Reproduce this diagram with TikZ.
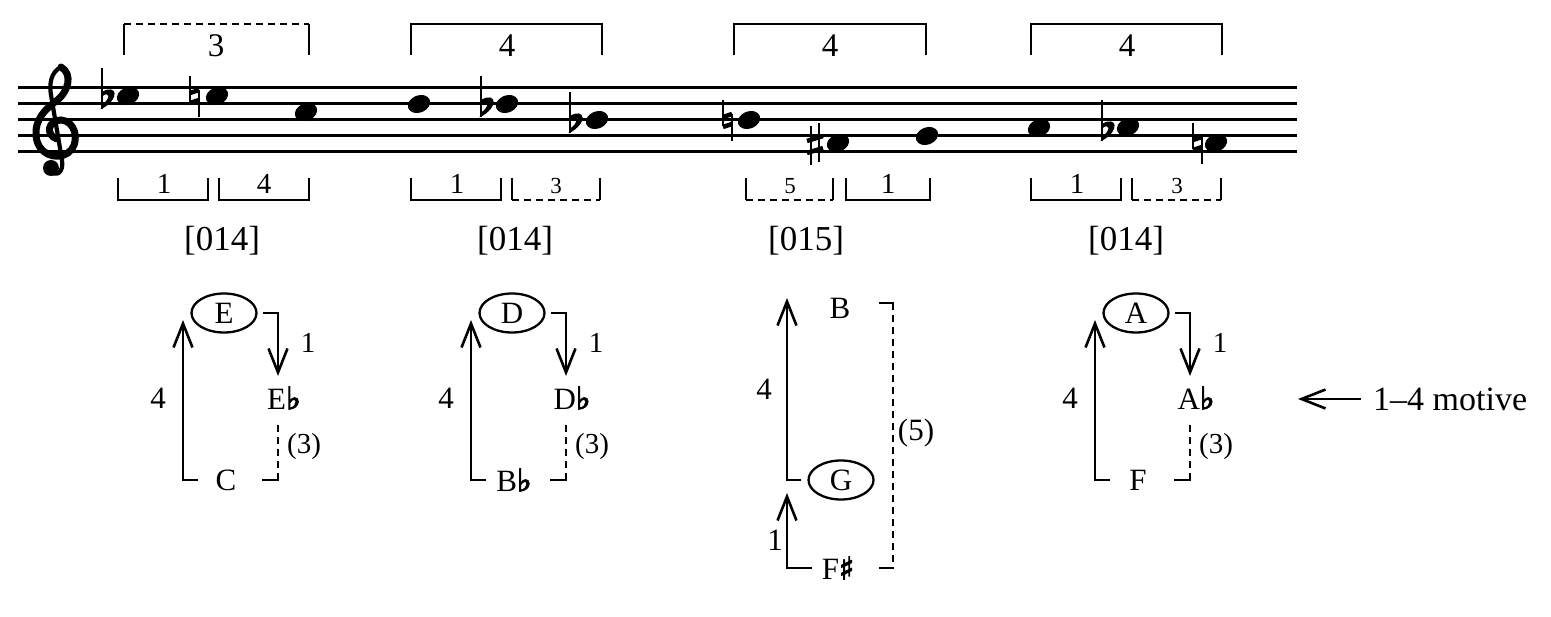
\documentclass[tikz,border=0pt]{standalone}
\usepackage{fontspec}
\setmainfont{Liberation Serif}
\newfontfamily\djfont[FakeBold=3.5]{DejaVu Sans}
\usetikzlibrary{arrows.meta,shapes.geometric}
\newcommand\flt{{\djfont\bfseries ♭}}
\newcommand\shp{{\djfont\bfseries ♯}}
\newcommand\nhead[2]{\fill[rotate around={22:(#1,#2)}] (#1,#2) ellipse [x radius=11.5pt, y radius=8.6pt];}
\newcommand\flatsign[2]{%
  \draw[line width=2.8pt] (#1,#2-28) -- (#1,#2+13);
  \fill (#1-1.4,#2+13.5) .. controls (#1+19,#2+3) and (#1+15,#2-13) .. (#1,#2-4) -- (#1,#2+0.5) .. controls (#1+8,#2-6) and (#1+9,#2+3) .. (#1,#2+8.5) -- cycle;}
\newcommand\natsign[2]{%
  \draw[line width=2.6pt] (#1,#2-20) -- (#1,#2+6);
  \draw[line width=2.6pt] (#1+9,#2-6) -- (#1+9,#2+21);
  \draw[line width=4.5pt] (#1,#2-3) -- (#1+9,#2-6);
  \draw[line width=4.5pt] (#1,#2+7) -- (#1+9,#2+4);}
\newcommand\shpsign[2]{%
  \draw[line width=2.6pt] (#1,#2-17) -- (#1,#2+22);
  \draw[line width=2.6pt] (#1+8,#2-20) -- (#1+8,#2+19);
  \draw[line width=4.5pt] (#1-4,#2-2) -- (#1+12,#2-7);
  \draw[line width=4.5pt] (#1-4,#2+10) -- (#1+12,#2+5);}
\tikzset{
  staffline/.style={line width=3pt},
  brk/.style={line width=2.4pt},
  brkd/.style={line width=2.4pt, dash pattern=on 7pt off 5pt},
  arr/.style={line width=2.6pt, -{Straight Barb[length=24pt,width=19pt,line width=2.6pt]}},
  dsh/.style={line width=2.4pt, dash pattern=on 7pt off 5pt},
  sol/.style={line width=2.4pt},
  big/.style={inner sep=0pt, font=\fontsize{33}{38}\selectfont},
  mid/.style={inner sep=0pt, font=\fontsize{29}{34}\selectfont},
  sml/.style={inner sep=0pt, font=\fontsize{23}{28}\selectfont},
  lab/.style={inner sep=0pt, font=\fontsize{31}{36}\selectfont},
  labs/.style={inner sep=0pt, font=\fontsize{29}{34}\selectfont},
  ell/.style={draw, line width=2.3pt, ellipse, inner sep=0pt, minimum width=65pt, minimum height=39pt, font=\fontsize{31}{36}\selectfont},
}
\begin{document}
\begin{tikzpicture}[x=1pt,y=-1pt]
\useasboundingbox (0,0) rectangle (1551,617);
% staff
\foreach \yy in {88,104,120,136,152} \draw[staffline] (18,\yy) -- (1297,\yy);
% treble clef
\draw[line width=7pt, line cap=round]
  (61,67) .. controls (73,74) and (69,92) .. (55,102)
  .. controls (40,113) and (33,126) .. (37,141)
  .. controls (42,158) and (63,161) .. (72,149)
  .. controls (79,139) and (75,121) .. (61,120)
  .. controls (48,120) and (45,135) .. (57,139);
\draw[line width=4.2pt, line cap=round]
  (61,67) .. controls (51,72) and (49,84) .. (51,95) -- (62,160)
  .. controls (64,173) and (56,177) .. (50,171);
\fill (51,168) circle [radius=8pt];
% notes
\flatsign{102}{96}\nhead{128}{96}
\natsign{190}{96}\nhead{217}{96}
\nhead{306}{112}
\nhead{419}{104}
\flatsign{481}{104}\nhead{507}{104}
\flatsign{570}{120}\nhead{597}{120}
\natsign{723}{120}\nhead{749}{120}
\shpsign{811}{143}\nhead{838}{143}
\nhead{927}{136}
\nhead{1039}{128}
\flatsign{1102}{128}\nhead{1128}{127}
\natsign{1193}{143}\nhead{1216}{143}
% top brackets
\draw[brk] (124,55) -- (124,24); \draw[brk] (309,55) -- (309,24);
\draw[brkd] (124,24) -- (309,24);
\draw[brk] (411,55) -- (411,24) -- (602,24) -- (602,55);
\draw[brk] (734,55) -- (734,24) -- (926,24) -- (926,55);
\draw[brk] (1031,55) -- (1031,24) -- (1222,24) -- (1222,55);
\node[big] (t1) at (216,46) {3};
\node[big] (t2) at (507,46) {4};
\node[big] (t3) at (830,46) {4};
\node[big] (t4) at (1127,46) {4};
% bottom brackets
\draw[brk] (118,178) -- (118,200) -- (208,200) -- (208,178);
\draw[brk] (219,178) -- (219,200) -- (309,200) -- (309,178);
\draw[brk] (411,178) -- (411,200) -- (501,200) -- (501,178);
\draw[brk] (512,178) -- (512,200); \draw[brk] (600,178) -- (600,200); \draw[brkd] (512,200) -- (600,200);
\draw[brk] (746,178) -- (746,200); \draw[brk] (833,178) -- (833,200); \draw[brkd] (746,200) -- (833,200);
\draw[brk] (846,178) -- (846,200) -- (930,200) -- (930,178);
\draw[brk] (1031,178) -- (1031,200) -- (1121,200) -- (1121,178);
\draw[brk] (1132,178) -- (1132,200); \draw[brk] (1221,178) -- (1221,200); \draw[brkd] (1132,200) -- (1221,200);
\node[mid] (b1) at (164,184) {1};
\node[mid] (b2) at (264,184) {4};
\node[mid] (b3) at (457,184) {1};
\node[sml] (b4) at (556,186) {3};
\node[sml] (b5) at (790,186) {5};
\node[mid] (b6) at (888,184) {1};
\node[mid] (b7) at (1077,184) {1};
\node[sml] (b8) at (1177,186) {3};
% set names
\node[big,font=\fontsize{35}{40}\selectfont] (s1) at (222,241) {[014]};
\node[big,font=\fontsize{35}{40}\selectfont] (s2) at (515,241) {[014]};
\node[big,font=\fontsize{35}{40}\selectfont] (s3) at (806,241) {[015]};
\node[big,font=\fontsize{35}{40}\selectfont] (s4) at (1126,241) {[014]};
% diagrams 1, 2, 4
\foreach \dx/\top/\mid/\bot/\nm in {0/E/E\flt/C/a, 288/D/D\flt/B\flt/b, 912/A/A\flt/F/d}{
  \begin{scope}[xshift=\dx pt]
  \node[ell] (top\nm) at (224,313) {\top};
  \node[lab] (mid\nm) at (284,398) {\mid};
  \node[lab] (bot\nm) at (226,480) {\bot};
  \coordinate (up\nm) at (183,320);
  \coordinate (dn\nm) at (278,376);
  \coordinate (dq\nm) at (278,423);
  \coordinate (dc\nm) at (278,480);
  \coordinate (cs\nm) at (198,480);
  \coordinate (ce\nm) at (262,480);
  \draw[arr] (cs\nm) -| (up\nm);
  \draw[arr] ([xshift=5pt]top\nm.east) -| (dn\nm);
  \draw[sol] (ce\nm) -- ([xshift=1.2pt]dc\nm);
  \draw[dsh] (dc\nm) -- (dq\nm);
  \node[lab] (four\nm) at (158,398) {4};
  \node[labs] (one\nm) at (308,343) {1};
  \node[labs] (thr\nm) at (304,447) {(3)};
  \end{scope}
}
% diagram 3
\node[lab] (Bc) at (840,308) {B};
\node[ell] (Gc) at (841,480) {G};
\node[lab] (Fc) at (838,568) {F\shp};
\coordinate (upc) at (787,298);
\coordinate (upd) at (787,493);
\coordinate (bs) at (879,303);
\coordinate (bt) at (893,303);
\coordinate (bu) at (893,568);
\coordinate (be) at (879,568);
\draw[arr] ([xshift=-6pt]Gc.west) -| (upc);
\draw[arr] ([xshift=-10pt]Fc.west) -| (upd);
\draw[sol] (bs) -- ([xshift=1.2pt]bt);
\draw[sol] (be) -- ([xshift=1.2pt]bu);
\draw[dsh] (bt) -- (bu);
\node[lab] (fourc) at (764,389) {4};
\node[lab] (onec) at (775,540) {1};
\node[lab] (fivec) at (916,433) {(5)};
% motive label
\node[lab, anchor=west, font=\fontsize{34}{40}\selectfont] (mot) at (1373,399) {1–4 motive};
\draw[arr] ([xshift=-12pt]mot.west) -- (1298,399);
\end{tikzpicture}
\end{document}
